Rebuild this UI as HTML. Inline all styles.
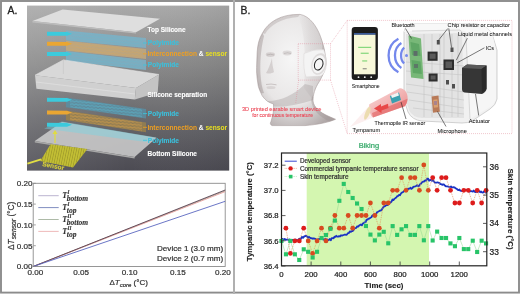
<!DOCTYPE html>
<html><head><meta charset="utf-8"><style>html,body{margin:0;padding:0;background:#fff;width:520px;height:294px;overflow:hidden}svg{display:block}</style></head>
<body>
<svg width="520" height="294" viewBox="0 0 520 294" font-family="Liberation Sans, Arial, sans-serif">
<defs>
<linearGradient id="bgA" x1="0" y1="0" x2="0" y2="1">
 <stop offset="0" stop-color="#a9a9a9"/><stop offset="0.35" stop-color="#8a8a8a"/><stop offset="0.7" stop-color="#67676b"/><stop offset="1" stop-color="#4c4b53"/>
</linearGradient>
<linearGradient id="bgAh" x1="0" y1="0" x2="1" y2="0">
 <stop offset="0" stop-color="#ffffff" stop-opacity="0.10"/><stop offset="0.5" stop-color="#ffffff" stop-opacity="0"/><stop offset="1" stop-color="#000" stop-opacity="0.05"/>
</linearGradient>
<linearGradient id="plate" x1="0" y1="0" x2="1" y2="1">
 <stop offset="0" stop-color="#e6e6e6"/><stop offset="1" stop-color="#d2d2d2"/>
</linearGradient>
<linearGradient id="cyanfade" x1="0" y1="0" x2="1" y2="0">
 <stop offset="0" stop-color="#3cc8dc"/><stop offset="0.25" stop-color="#3cc8dc"/><stop offset="0.45" stop-color="#6eb0c0" stop-opacity="0.8"/><stop offset="1" stop-color="#6eaabb" stop-opacity="0.75"/>
</linearGradient>
<linearGradient id="orfade" x1="0" y1="0" x2="1" y2="0">
 <stop offset="0" stop-color="#e8a830"/><stop offset="0.25" stop-color="#e8a030"/><stop offset="0.45" stop-color="#b89860" stop-opacity="0.8"/><stop offset="1" stop-color="#b8a070" stop-opacity="0.75"/>
</linearGradient>
<radialGradient id="headg" cx="0.45" cy="0.4" r="0.7">
 <stop offset="0" stop-color="#f6f6f6"/><stop offset="0.6" stop-color="#e8e6e6"/><stop offset="1" stop-color="#b0a8a8"/>
</radialGradient>
<linearGradient id="coneg" x1="0" y1="0" x2="1" y2="1">
 <stop offset="0" stop-color="#fadcdc"/><stop offset="0.5" stop-color="#f2b4b4"/><stop offset="1" stop-color="#e88484"/>
</linearGradient>
<pattern id="meshC" width="4" height="3" patternUnits="userSpaceOnUse" patternTransform="rotate(5)">
 <path d="M0,1.5 Q1,0 2,1.5 T4,1.5" fill="none" stroke="#5ac0d8" stroke-width="0.9"/>
</pattern>
<pattern id="meshO" width="4" height="3" patternUnits="userSpaceOnUse" patternTransform="rotate(5)">
 <path d="M0,1.5 Q1,0 2,1.5 T4,1.5" fill="none" stroke="#e8a848" stroke-width="0.9"/>
</pattern>
<pattern id="grid" width="2.4" height="2.4" patternUnits="userSpaceOnUse" patternTransform="rotate(12)">
 <rect x="0" y="0" width="0.7" height="2.4" fill="#7a7620"/>
</pattern>
<linearGradient id="sideg" x1="0" y1="0" x2="1" y2="0">
 <stop offset="0" stop-color="#b0a8a8" stop-opacity="0"/><stop offset="0.4" stop-color="#b0a8a8" stop-opacity="0.25"/><stop offset="1" stop-color="#a09898" stop-opacity="0.4"/>
</linearGradient>
</defs>
<rect width="520" height="294" fill="#fff"/>
<rect x="27" y="5.6" width="202.2" height="165" fill="url(#bgA)"/>
<rect x="27" y="5.6" width="202.2" height="165" fill="url(#bgAh)"/>
<polygon points="32.5,21 62.6,9.4 160,18.8 136,32.2" fill="#dedede"/>
<polygon points="32.5,21 136,32.2 136,33.6 32.5,22.4" fill="#bdbdbd"/>
<polygon points="66,30.6 146,38.1 146,48.1 66,40.6" fill="#7cb0c6" opacity="0.85"/>
<polygon points="70,31.5 142,38.2 142,47.2 70,40.5" fill="url(#meshC)" opacity="0.45"/>
<polygon points="47,31.799999999999997 67,31.999999999999996 72,33.8 67,35.8 47,35.8" fill="#3ccadc"/>
<polygon points="66,40.7 146,48.9 146,58.9 66,50.7" fill="#c2a87c" opacity="0.85"/>
<polygon points="70,41.6 142,49.0 142,58.0 70,50.6" fill="url(#meshO)" opacity="0.45"/>
<polygon points="47,41.7 67,41.900000000000006 72,43.7 67,45.7 47,45.7" fill="#eaa632"/>
<polygon points="66,51.1 146,60.1 146,70.1 66,61.1" fill="#7cb0c6" opacity="0.85"/>
<polygon points="70,52.0 142,60.2 142,69.2 70,61.0" fill="url(#meshC)" opacity="0.45"/>
<polygon points="47,51.9 67,52.1 72,53.9 67,55.9 47,55.9" fill="#3ccadc"/>
<polygon points="35,75.2 63.4,59.9 159,74.5 136,88" fill="#d8d8d8"/>
<polygon points="35,75.2 136,88 134.8,99.5 36.4,88.7" fill="#d0d0d0"/>
<polygon points="136,88 159,74.5 157.7,92.4 134.8,99.5" fill="#c4c4c4"/>
<polyline points="35,75.2 63.4,59.9 159,74.5" fill="none" stroke="#e8e8e8" stroke-width="0.6"/>
<line x1="63.4" y1="59.9" x2="63.4" y2="74" stroke="#c4c4c4" stroke-width="0.6"/>
<line x1="36" y1="82" x2="135" y2="94" stroke="#dcdcdc" stroke-width="1.2"/>
<polygon points="66,97.6 146,108.9 146,118.5 66,107.2" fill="#5a8ea2" opacity="0.85"/>
<polygon points="70,98.7 142,108.9 142,117.5 70,107.3" fill="url(#meshC)" opacity="0.8"/>
<polygon points="47,97.7 67,97.9 72,99.7 67,101.7 47,101.7" fill="#3ccadc"/>
<polygon points="66,110.6 146,122.6 146,132.2 66,120.2" fill="#98804e" opacity="0.85"/>
<polygon points="70,111.7 142,122.5 142,131.2 70,120.3" fill="url(#meshO)" opacity="0.8"/>
<polygon points="47,110.6 67,110.8 72,112.6 67,114.6 47,114.6" fill="#eaa632"/>
<polygon points="34.8,141 62,122 156.5,137.7 134.6,157" fill="#cfcfcf" opacity="0.85"/>
<polygon points="44,128.5 62,121.5 156.5,137.5 146,142" fill="#78d4e4" opacity="0.45"/>
<polygon points="34.8,141 134.6,157 134.6,158.4 34.8,142.4" fill="#a8a8a8"/>
<polygon points="47,122.8 67,123 72,124.8 67,126.8 47,126.8" fill="#3ccadc"/>
<polygon points="40.2,161 50.6,144.2 87.4,149 73,167.6" fill="#c2be34"/>
<polygon points="40.2,161 50.6,144.2 87.4,149 73,167.6" fill="url(#grid)" opacity="0.5"/>
<line x1="27.4" y1="163.6" x2="41" y2="159.4" stroke="#e2de44" stroke-width="1.8"/>
<line x1="55" y1="143" x2="55" y2="133" stroke="#e0dc40" stroke-width="1.2"/>
<polygon points="52.5,134 57.5,134 55,130" fill="#e0dc40"/>
<text x="42" y="166" font-size="6.5" font-weight="bold" fill="#d8d23a" transform="rotate(11 42 166)" stroke="#d8d23a" stroke-width="0.12">Sensor</text>
<text x="147.5" y="31.7" font-size="6.5" font-weight="bold" fill="#ffffff" stroke="#ffffff" stroke-width="0.12">Top Silicone</text>
<text x="147.8" y="45.3" font-size="6.6" font-weight="bold" fill="#3cc0dc" stroke="#3cc0dc" stroke-width="0.12">Polyimide</text>
<line x1="143" y1="43" x2="147" y2="43" stroke="#38c8e0" stroke-width="0.8"/>
<text x="147.5" y="56.0" font-size="6.6" font-weight="bold"><tspan fill="#f0a020">Interconnection</tspan><tspan fill="#ffffff"> &amp; </tspan><tspan fill="#e8e020">sensor</tspan></text>
<line x1="143" y1="53.8" x2="147" y2="53.8" stroke="#f0a020" stroke-width="0.8"/>
<text x="147.8" y="67.3" font-size="6.6" font-weight="bold" fill="#3cc0dc" stroke="#3cc0dc" stroke-width="0.12">Polyimide</text>
<line x1="143" y1="65" x2="147" y2="65" stroke="#38c8e0" stroke-width="0.8"/>
<text x="147.5" y="97.4" font-size="6.5" font-weight="bold" fill="#ffffff" stroke="#ffffff" stroke-width="0.12">Silicone separation</text>
<text x="147.8" y="115.89999999999999" font-size="6.6" font-weight="bold" fill="#3cc0dc" stroke="#3cc0dc" stroke-width="0.12">Polyimide</text>
<line x1="143" y1="113.6" x2="147" y2="113.6" stroke="#38c8e0" stroke-width="0.8"/>
<text x="147.5" y="129.5" font-size="6.6" font-weight="bold"><tspan fill="#f0a020">Interconnection</tspan><tspan fill="#ffffff"> &amp; </tspan><tspan fill="#e8e020">sensor</tspan></text>
<line x1="143" y1="127.3" x2="147" y2="127.3" stroke="#f0a020" stroke-width="0.8"/>
<text x="147.8" y="142.60000000000002" font-size="6.6" font-weight="bold" fill="#3cc0dc" stroke="#3cc0dc" stroke-width="0.12">Polyimide</text>
<line x1="143" y1="140.3" x2="147" y2="140.3" stroke="#38c8e0" stroke-width="0.8"/>
<text x="147.5" y="156.39999999999998" font-size="6.5" font-weight="bold" fill="#ffffff" stroke="#ffffff" stroke-width="0.12">Bottom Silicone</text>
<text x="7.6" y="13.9" font-size="10.4" fill="#222" stroke="#222" stroke-width="0.3">A.</text>
<rect x="33.2" y="183.3" width="192" height="83.2" fill="none" stroke="#8c8c8c" stroke-width="0.9"/>
<line x1="33.2" y1="266.5" x2="225.2" y2="190.79" stroke="#98a890" stroke-width="0.9"/>
<line x1="33.2" y1="266.5" x2="225.2" y2="191.62" stroke="#e8a0a0" stroke-width="0.9"/>
<line x1="33.2" y1="266.5" x2="225.2" y2="190.00" stroke="#5a4050" stroke-width="0.9"/>
<line x1="33.2" y1="266.5" x2="225.2" y2="201.31" stroke="#5a66c0" stroke-width="0.9"/>
<line x1="38.3" y1="195.7" x2="58.7" y2="195.7" stroke="#aaa0c4" stroke-width="0.8"/>
<text x="62.2" y="198.39999999999998" font-family="Liberation Serif, serif" font-style="italic" font-weight="bold" font-size="8" fill="#333" stroke="#333" stroke-width="0.12">T</text>
<text x="67.4" y="193.89999999999998" font-family="Liberation Serif, serif" font-style="italic" font-weight="bold" font-size="5.2" fill="#333" stroke="#333" stroke-width="0.12">I</text>
<text x="66.8" y="201.1" font-family="Liberation Serif, serif" font-style="italic" font-weight="bold" font-size="7.5" fill="#333" stroke="#333" stroke-width="0.12">bottom</text>
<line x1="38.3" y1="207.6" x2="58.7" y2="207.6" stroke="#6070b0" stroke-width="0.8"/>
<text x="62.2" y="210.29999999999998" font-family="Liberation Serif, serif" font-style="italic" font-weight="bold" font-size="8" fill="#333" stroke="#333" stroke-width="0.12">T</text>
<text x="67.4" y="205.79999999999998" font-family="Liberation Serif, serif" font-style="italic" font-weight="bold" font-size="5.2" fill="#333" stroke="#333" stroke-width="0.12">I</text>
<text x="66.8" y="213.0" font-family="Liberation Serif, serif" font-style="italic" font-weight="bold" font-size="7.5" fill="#333" stroke="#333" stroke-width="0.12">top</text>
<line x1="38.3" y1="219.5" x2="58.7" y2="219.5" stroke="#98a890" stroke-width="0.8"/>
<text x="62.2" y="222.2" font-family="Liberation Serif, serif" font-style="italic" font-weight="bold" font-size="8" fill="#333" stroke="#333" stroke-width="0.12">T</text>
<text x="67.4" y="217.7" font-family="Liberation Serif, serif" font-style="italic" font-weight="bold" font-size="5.2" fill="#333" stroke="#333" stroke-width="0.12">II</text>
<text x="66.8" y="224.9" font-family="Liberation Serif, serif" font-style="italic" font-weight="bold" font-size="7.5" fill="#333" stroke="#333" stroke-width="0.12">bottom</text>
<line x1="38.3" y1="231.4" x2="58.7" y2="231.4" stroke="#eaa8a8" stroke-width="0.8"/>
<text x="62.2" y="234.1" font-family="Liberation Serif, serif" font-style="italic" font-weight="bold" font-size="8" fill="#333" stroke="#333" stroke-width="0.12">T</text>
<text x="67.4" y="229.6" font-family="Liberation Serif, serif" font-style="italic" font-weight="bold" font-size="5.2" fill="#333" stroke="#333" stroke-width="0.12">II</text>
<text x="66.8" y="236.8" font-family="Liberation Serif, serif" font-style="italic" font-weight="bold" font-size="7.5" fill="#333" stroke="#333" stroke-width="0.12">top</text>
<text x="32.6" y="269.4" font-size="8.1" text-anchor="end" fill="#333" stroke="#333" stroke-width="0.22">0.00</text>
<line x1="33.3" y1="266.5" x2="35.8" y2="266.5" stroke="#8c8c8c" stroke-width="0.8"/>
<text x="35.3" y="274.8" font-size="8.1" text-anchor="middle" fill="#333" stroke="#333" stroke-width="0.22">0.00</text>
<text x="32.6" y="248.6" font-size="8.1" text-anchor="end" fill="#333" stroke="#333" stroke-width="0.22">0.05</text>
<line x1="33.3" y1="245.7" x2="35.8" y2="245.7" stroke="#8c8c8c" stroke-width="0.8"/>
<text x="81.1" y="274.8" font-size="8.1" text-anchor="middle" fill="#333" stroke="#333" stroke-width="0.22">0.05</text>
<text x="32.6" y="227.8" font-size="8.1" text-anchor="end" fill="#333" stroke="#333" stroke-width="0.22">0.10</text>
<line x1="33.3" y1="224.9" x2="35.8" y2="224.9" stroke="#8c8c8c" stroke-width="0.8"/>
<text x="129.6" y="274.8" font-size="8.1" text-anchor="middle" fill="#333" stroke="#333" stroke-width="0.22">0.10</text>
<text x="32.6" y="207.0" font-size="8.1" text-anchor="end" fill="#333" stroke="#333" stroke-width="0.22">0.15</text>
<line x1="33.3" y1="204.1" x2="35.8" y2="204.1" stroke="#8c8c8c" stroke-width="0.8"/>
<text x="177.9" y="274.8" font-size="8.1" text-anchor="middle" fill="#333" stroke="#333" stroke-width="0.22">0.15</text>
<text x="32.6" y="186.2" font-size="8.1" text-anchor="end" fill="#333" stroke="#333" stroke-width="0.22">0.20</text>
<line x1="33.3" y1="183.3" x2="35.8" y2="183.3" stroke="#8c8c8c" stroke-width="0.8"/>
<text x="223.0" y="274.8" font-size="8.1" text-anchor="middle" fill="#333" stroke="#333" stroke-width="0.22">0.20</text>
<text x="157" y="251.2" font-size="8.1" fill="#333" stroke="#333" stroke-width="0.22">Device 1 (3.0 mm)</text>
<text x="157" y="261" font-size="8.1" fill="#333" stroke="#333" stroke-width="0.22">Device 2 (0.7 mm)</text>
<text transform="translate(14.2,225.8) rotate(-90)" text-anchor="middle" font-size="8.4" fill="#333" stroke="#333" stroke-width="0.22">&#916;<tspan font-style="italic">T</tspan><tspan font-style="italic" font-size="6.8" dy="1.7">sensor</tspan><tspan dy="-1.7"> (°C)</tspan></text>
<text x="128.7" y="285" text-anchor="middle" font-size="8" fill="#333" stroke="#333" stroke-width="0.22">&#916;<tspan font-style="italic">T</tspan><tspan font-style="italic" font-size="6" dy="1.6">core</tspan><tspan dy="-1.6"> (°C)</tspan></text>
<text x="240.6" y="13.9" font-size="10.4" fill="#222" stroke="#222" stroke-width="0.3">B.</text>
<path d="M300,14.4 C310,16 317,27 320.5,36.5 C323.5,45 326,54 326,64 C325,71 322.5,76 319,82 C315,88 312.8,95 313,101 C313.5,107 320,112.5 328,116 L335.5,119.3 C328,122.5 318,124.5 305,125.6 L272,125.6 C270,124.5 270,123 271,121.5 C273,115 274.2,110 273.5,104 C271,103 269,102.5 267.3,101.2 C264,98.5 262,96 261.2,93.6 C259.5,90 258.3,87 258,84.4 C257.3,80 256.8,76 256.6,72 C256.5,66 257,58 257.2,52 C257.6,45 259,38.5 262.5,33 C268,22 281,14 300,14.4 Z" fill="url(#headg)" stroke="#a89c9c" stroke-width="0.6"/>
<clipPath id="hc"><path d="M300,14.4 C310,16 317,27 320.5,36.5 C323.5,45 326,54 326,64 C325,71 322.5,76 319,82 C315,88 312.8,95 313,101 C313.5,107 320,112.5 328,116 L335.5,119.3 C328,122.5 318,124.5 305,125.6 L272,125.6 C270,124.5 270,123 271,121.5 C273,115 274.2,110 273.5,104 C271,103 269,102.5 267.3,101.2 C264,98.5 262,96 261.2,93.6 C259.5,90 258.3,87 258,84.4 C257.3,80 256.8,76 256.6,72 C256.5,66 257,58 257.2,52 C257.6,45 259,38.5 262.5,33 C268,22 281,14 300,14.4 Z"/></clipPath>
<g clip-path="url(#hc)">
<path d="M262.5,33 C259,38.5 257.6,45 257.2,52 C257,58 256.5,66 256.6,72 C256.8,76 257.3,80 258,84.4 C258.3,87 259.5,90 261.2,93.6 L264,93 C262,88 261,82 260.5,74 C260,64 260.5,50 264,36 Z" fill="#8a7c7c" opacity="0.35"/>
<path d="M262.5,33 C268,22 281,14 300,14.4 L298,17 C282,18 270,25 265,34 Z" fill="#8a7c7c" opacity="0.25"/>
<path d="M298,16 C305,30 306,60 304,88 L313,100 L330,80 L330,14 Z" fill="url(#sideg)"/>
<ellipse cx="334" cy="52" rx="12" ry="34" fill="#a89e9e" opacity="0.35"/>
<ellipse cx="270.4" cy="54.6" rx="4.6" ry="2.4" fill="#a89e9e" opacity="0.35"/>
<ellipse cx="287.2" cy="53" rx="4.6" ry="2.4" fill="#a89e9e" opacity="0.3"/>
<path d="M267,55 Q270.5,53.5 274,55" fill="none" stroke="#8a8080" stroke-width="0.5" opacity="0.6"/>
<path d="M284,53.5 Q287.5,52 291,53.5" fill="none" stroke="#8a8080" stroke-width="0.5" opacity="0.6"/>
<path d="M272,58 C272,63 273,68 274,72 C272,73.5 269,74 266,73 C268,70 270,65 272,58 Z" fill="#a89e9e" opacity="0.35"/>
<path d="M266,84.5 Q271,83.5 276.5,84.8" fill="none" stroke="#9a8e8e" stroke-width="0.7" opacity="0.6"/>
<ellipse cx="271" cy="87.5" rx="4.5" ry="1.5" fill="#b0a6a6" opacity="0.3"/>
<path d="M267,101 C280,101.5 294,95 305,84 L313,86 L313,100 C300,104 285,108 272,106 Z" fill="#a8a0a0" opacity="0.4"/>
<path d="M313,95 C313,105 318,112 330,117 L336,120 L330,122 C320,117 312,110 311,100 Z" fill="#9a9090" opacity="0.35"/>
</g>
<path d="M304,53.5 Q313,49 323.8,49.7 Q327,58 326,68 Q325,73 321,76 L306,77 Q303,70 304,53.5 Z" fill="#f4f4f4" stroke="#d8d4d4" stroke-width="0.5"/>
<ellipse cx="319" cy="64" rx="7.5" ry="11" fill="#d4d0d0" opacity="0.7" transform="rotate(15 319 64)"/>
<ellipse cx="318.8" cy="64.2" rx="6.2" ry="9.2" fill="#f6f6f6" transform="rotate(15 318.8 64.2)"/>
<ellipse cx="318.7" cy="64.4" rx="4.1" ry="5.8" fill="none" stroke="#2a2a2a" stroke-width="1.0" transform="rotate(20 318.7 64.4)"/>
<rect x="298.2" y="43.7" width="32.3" height="36.4" fill="none" stroke="#e08898" stroke-width="0.7" stroke-dasharray="0.9,1.1" opacity="0.75"/>
<line x1="330.5" y1="43.7" x2="347.2" y2="20.4" stroke="#e08898" stroke-width="0.7" stroke-dasharray="0.9,1.1" opacity="0.75"/>
<line x1="330.5" y1="80.1" x2="347.2" y2="133.6" stroke="#e08898" stroke-width="0.7" stroke-dasharray="0.9,1.1" opacity="0.75"/>
<rect x="347.2" y="20.4" width="164.8" height="113.2" fill="none" stroke="#e08898" stroke-width="0.7" stroke-dasharray="0.9,1.1" opacity="0.75"/>
<line x1="298.6" y1="80.1" x2="295.6" y2="104" stroke="#e08898" stroke-width="0.7" stroke-dasharray="0.9,1.1" opacity="0.75"/>
<text x="242" y="110.6" font-size="5.6" fill="#ec4454" stroke="#ec4454" stroke-width="0.08">3D printed earable smart device</text>
<text x="252.2" y="117.1" font-size="5.1" fill="#ec4454" stroke="#ec4454" stroke-width="0.08">for continuous temperature</text>
<rect x="351.7" y="27.1" width="26.2" height="53" rx="3" fill="#1c1c1c"/>
<rect x="354" y="33" width="21.5" height="1.8" fill="#3a5a9a"/>
<rect x="354" y="34.8" width="21.5" height="39.5" fill="#f8f8da"/>
<rect x="358.2" y="46.8" width="13" height="1.1" fill="#50c850" opacity="0.75"/>
<rect x="360.7" y="52.699999999999996" width="8" height="1.1" fill="#50c850" opacity="0.75"/>
<rect x="362.2" y="60.4" width="5" height="1.1" fill="#50c850" opacity="0.75"/>
<rect x="362.7" y="68.2" width="4" height="1.1" fill="#666" opacity="0.75"/>
<circle cx="358.5" cy="77.2" r="0.9" fill="#eee"/>
<circle cx="364.8" cy="77.2" r="0.9" fill="#eee"/>
<circle cx="371.2" cy="77.2" r="0.9" fill="#eee"/>
<text x="351.8" y="87.5" font-size="5.1" fill="#1e1e1e" stroke="#1e1e1e" stroke-width="0.06">Smartphone</text>
<path d="M404,32 Q405,25 413,24 L476,24 Q489,25 493,37 L497,50 L497,99 Q496,105 490,109 L472,121 Q468,123 462,123 L422,121 Q412,120 408,112 L404,100 Z" fill="#f1f1f1" stroke="#c6c6c6" stroke-width="0.8"/>
<path d="M404,32 Q405,25 413,24 L476,24 Q489,25 493,37 L470,36 Q466,30 460,30 L412,31 Z" fill="#f8f8f8"/>
<path d="M406,34 L462,33 L464,118 L422,118 Q412,117 409,110 L406,100 Z" fill="#dedede" opacity="0.75"/>
<path d="M466,37 L493,37 L496,50 L496,99 Q495,104 490,107 L470,119 Z" fill="#f6f6f6"/>
<line x1="412" y1="31" x2="460" y2="30" stroke="#c4c4c4" stroke-width="0.6"/>
<line x1="460" y1="30" x2="466" y2="37" stroke="#c4c4c4" stroke-width="0.6"/>
<line x1="466" y1="37" x2="470" y2="119" stroke="#c4c4c4" stroke-width="0.6"/>
<line x1="406" y1="84" x2="464" y2="92" stroke="#c4c4c4" stroke-width="0.6"/>
<line x1="407" y1="92" x2="464" y2="100" stroke="#c4c4c4" stroke-width="0.6"/>
<line x1="409" y1="100" x2="464" y2="108" stroke="#c4c4c4" stroke-width="0.6"/>
<line x1="413" y1="108" x2="464" y2="114" stroke="#c4c4c4" stroke-width="0.6"/>
<line x1="424" y1="34" x2="424" y2="117" stroke="#c4c4c4" stroke-width="0.6"/>
<line x1="440" y1="34" x2="440" y2="117" stroke="#c4c4c4" stroke-width="0.6"/>
<line x1="452" y1="34" x2="452" y2="117" stroke="#c4c4c4" stroke-width="0.6"/>
<line x1="432" y1="34" x2="432" y2="117" stroke="#c4c4c4" stroke-width="0.6"/>
<line x1="406" y1="62" x2="464" y2="66" stroke="#c4c4c4" stroke-width="0.6"/>
<line x1="406" y1="71" x2="464" y2="75" stroke="#c4c4c4" stroke-width="0.6"/>
<line x1="444" y1="34" x2="444" y2="117" stroke="#c4c4c4" stroke-width="0.6"/>
<line x1="458" y1="34" x2="458" y2="117" stroke="#c4c4c4" stroke-width="0.6"/>
<polygon points="408.5,35.5 421,38.5 423.5,79 411,77.5" fill="#78b878"/>
<polygon points="410.5,42 419,44 420.5,56 412,55" fill="#4e9a58" opacity="0.6"/>
<polygon points="411.5,60 420.5,61.5 421.8,74 413,73" fill="#4e9a58" opacity="0.6"/>
<rect x="413.5" y="51" width="4" height="5" fill="#5a4a6a" opacity="0.6"/>
<rect x="414" y="64" width="4" height="4" fill="#5a4a6a" opacity="0.5"/>
<path d="M404.2,47.6 A6,9 0 0 0 404.2,63.4" fill="none" stroke="#7488ec" stroke-width="2.3"/>
<path d="M401.4,43.1 A12,14 0 0 0 401.4,67.9" fill="none" stroke="#7488ec" stroke-width="2.3"/>
<path d="M398.4,38.7 A18.4,19 0 0 0 398.4,72.3" fill="none" stroke="#7488ec" stroke-width="2.3"/>
<circle cx="406.5" cy="55.5" r="1.5" fill="#7488ec"/>
<rect x="427.6" y="51.6" width="10" height="9.2" fill="#2e2e2e"/>
<rect x="429.6" y="53.6" width="6" height="5.199999999999999" fill="#5a5a5a"/>
<rect x="443.5" y="59.5" width="10.5" height="10.5" fill="#2e2e2e"/>
<rect x="445.5" y="61.5" width="6.5" height="6.5" fill="#5a5a5a"/>
<rect x="428.6" y="73.5" width="9" height="8" fill="#2e2e2e"/>
<rect x="430.6" y="75.5" width="5" height="4" fill="#5a5a5a"/>
<rect x="436.8" y="40" width="3" height="4.5" fill="#505050"/>
<rect x="450.5" y="47.5" width="3" height="4.5" fill="#505050"/>
<rect x="446" y="80" width="3" height="4.5" fill="#505050"/>
<rect x="452" y="84" width="3" height="4.5" fill="#505050"/>
<path d="M462,68 L467,64.4 L486.5,65.5 L486.5,89 Q486,92 482,94 L464.5,92.5 Q462,92 462,89 Z" fill="#363636"/>
<polygon points="462,68 467,64.4 486.5,65.5 481.5,69" fill="#5a5a5a"/>
<polygon points="481.5,69 486.5,65.5 486.5,89 482,93" fill="#2a2a2a"/>
<polygon points="431.6,96.5 438.5,95.4 439.8,111.8 433,112.8" fill="#b87a58"/>
<rect x="433.5" y="99.5" width="4.3" height="8" fill="#d8a070" transform="rotate(-5 435.6 103.5)"/>
<rect x="434" y="101" width="3" height="4" fill="#8a70a0" opacity="0.6"/>
<path d="M350,127 L369,106 L373,117.5 Z" fill="#fae4e4" opacity="0.6"/>
<path d="M369.3,104.3 L399.2,88.4 C404,87.5 408,93 407.6,98.7 C407.3,102.5 406,105 404.8,106.2 L373,117.4 C370,116 368.5,108 369.3,104.3 Z" fill="url(#coneg)"/>
<path d="M373,117.4 L404.8,106.2 C406,105 407.3,102.5 407.6,98.7 L402,101 L372,113 Z" fill="#e05858" opacity="0.55"/>
<polygon points="374,108.5 381,104 381,106.5 388,103.8 388.5,108 381.5,110.5 381.5,113" fill="#e84848"/>
<polygon points="389.9,96 399,92.5 401,100 392,103.6" fill="#3aa0b0"/>
<polygon points="391,95.2 398,92.6 399,95.5 392,98" fill="#f0f4f4"/>
<ellipse cx="367.4" cy="113.2" rx="2.2" ry="7" fill="#ecdcb0" transform="rotate(22 367.4 113.2)"/>
<line x1="401" y1="102" x2="406" y2="119" stroke="#222" stroke-width="0.6"/>
<line x1="437.5" y1="111.5" x2="446" y2="126.5" stroke="#222" stroke-width="0.6"/>
<line x1="475.5" y1="94" x2="478.7" y2="115.5" stroke="#222" stroke-width="0.6"/>
<line x1="405.5" y1="28.5" x2="411.5" y2="38.5" stroke="#222" stroke-width="0.6"/>
<line x1="447.8" y1="28.5" x2="438.3" y2="40.5" stroke="#222" stroke-width="0.6"/>
<line x1="448.8" y1="28.5" x2="451.5" y2="47.5" stroke="#222" stroke-width="0.6"/>
<line x1="467.4" y1="38.2" x2="456.3" y2="60.2" stroke="#222" stroke-width="0.6"/>
<line x1="484.4" y1="47.8" x2="457.2" y2="62.8" stroke="#222" stroke-width="0.6"/>
<text x="374.6" y="124.5" font-size="5.3" fill="#1e1e1e" stroke="#1e1e1e" stroke-width="0.06">Thermopile IR sensor</text>
<text x="352.4" y="132.4" font-size="5.6" fill="#1e1e1e" stroke="#1e1e1e" stroke-width="0.06">Tympanum</text>
<text x="391.4" y="27.4" font-size="5.5" fill="#1e1e1e" stroke="#1e1e1e" stroke-width="0.06">Bluetooth</text>
<text x="447.6" y="27.4" font-size="5.6" fill="#1e1e1e" stroke="#1e1e1e" stroke-width="0.06">Chip resistor or capacitor</text>
<text x="457.9" y="36.4" font-size="5.6" fill="#1e1e1e" stroke="#1e1e1e" stroke-width="0.06">Liquid metal channels</text>
<text x="485.7" y="49.5" font-size="5.6" fill="#1e1e1e" stroke="#1e1e1e" stroke-width="0.06">ICs</text>
<text x="468.8" y="122.6" font-size="5.7" fill="#1e1e1e" stroke="#1e1e1e" stroke-width="0.06">Actuator</text>
<text x="437.6" y="132.7" font-size="5.6" fill="#1e1e1e" stroke="#1e1e1e" stroke-width="0.06">Microphone</text>
<rect x="306.7" y="153" width="122.3" height="112.5" fill="#d4f6b0"/>
<text x="368.9" y="147.8" font-size="7.5" text-anchor="middle" fill="#34a868" stroke="#34a868" stroke-width="0.22">Biking</text>
<polyline points="281.5,239.1 282.6,238.9 283.6,239.9 284.7,238.9 285.8,239.9 286.8,239.7 287.7,239.3 288.6,240.2 289.6,239.5 290.6,240.3 291.5,239.8 292.4,239.8 293.3,240.3 294.2,240.9 295.1,239.6 296.0,239.7 296.9,240.1 297.8,240.3 298.7,239.3 299.6,238.6 300.7,239.1 301.9,236.9 303.0,237.8 304.0,236.6 305.0,236.1 306.0,235.8 307.0,236.5 308.0,237.7 309.0,236.8 310.0,237.8 310.9,238.3 311.8,238.2 312.8,238.8 313.7,238.3 314.6,238.6 315.8,239.1 317.0,240.1 318.1,239.3 319.3,238.8 320.4,239.0 321.4,238.8 322.3,238.6 323.3,239.6 324.3,239.6 325.2,238.8 326.2,239.5 327.1,239.4 328.0,240.1 329.0,239.8 329.9,239.0 330.8,240.3 331.7,238.2 332.6,238.2 333.6,238.3 334.5,236.7 335.4,236.8 336.3,235.8 337.2,236.7 338.2,236.7 339.1,236.1 340.0,236.5 341.0,235.2 342.0,235.7 343.0,235.2 344.0,234.9 345.0,234.5 346.0,234.9 346.9,234.6 347.9,233.2 348.9,233.0 349.8,231.4 350.7,231.9 351.7,231.2 352.6,231.1 353.5,230.2 354.4,228.5 355.4,228.1 356.3,227.9 357.2,226.3 358.2,226.6 359.1,225.6 360.0,225.0 360.9,224.4 361.9,225.3 362.8,223.6 363.8,222.9 364.7,222.2 365.6,222.1 366.6,219.7 367.6,219.5 368.5,218.7 369.4,218.6 370.4,217.8 371.4,217.3 372.3,215.5 373.2,215.1 374.2,214.3 375.1,214.7 376.1,214.3 377.0,212.2 378.0,211.7 378.9,211.2 379.9,210.6 380.8,210.5 381.8,209.6 382.8,208.0 383.8,206.5 384.8,206.3 385.8,205.5 386.7,205.2 387.6,205.2 388.6,204.0 389.6,203.0 390.5,202.5 391.5,201.6 392.5,199.5 393.4,200.1 394.4,198.9 395.4,198.1 396.3,197.5 397.2,196.2 398.2,195.8 399.1,194.8 400.0,195.2 401.0,193.4 402.1,192.5 403.1,192.0 404.2,191.0 405.2,190.5 406.1,189.6 407.0,189.2 407.9,189.1 408.8,188.6 409.7,188.7 410.6,187.7 411.5,188.9 412.4,188.1 413.3,186.9 414.2,186.6 415.2,186.4 416.1,186.0 417.1,185.2 418.1,186.0 419.0,185.9 420.0,184.3 421.0,183.7 422.0,182.3 423.0,181.7 424.0,181.5 425.1,180.5 426.1,180.7 427.2,178.7 428.2,178.7 429.1,180.7 430.1,180.2 431.1,179.8 432.0,180.8 433.0,180.1 433.9,181.4 434.8,182.5 435.7,182.7 436.7,182.7 437.6,182.3 438.5,182.8 439.4,182.8 440.3,184.2 441.2,184.1 442.2,184.9 443.1,184.4 444.0,184.5 445.1,185.8 446.1,186.4 447.2,186.4 448.3,186.6 449.2,186.9 450.1,187.1 451.0,186.5 451.9,187.4 452.9,187.4 453.8,187.2 454.7,187.5 455.6,188.3 456.5,188.6 457.4,189.5 458.4,190.2 459.4,189.5 460.3,190.6 461.2,190.9 462.2,191.0 463.2,190.0 464.2,189.9 465.1,190.0 466.1,190.0 467.1,190.1 468.1,191.0 469.0,191.5 470.0,191.5 471.0,191.0 471.9,191.3 472.8,191.7 473.7,190.5 474.6,191.6 475.5,192.1 476.5,191.9 477.4,192.0 478.3,191.5 479.2,191.1 480.1,192.2 481.0,191.5 481.9,192.3 482.9,192.6 483.8,191.6 484.7,191.6 485.7,192.6 486.6,191.8" fill="none" stroke="#1a32c4" stroke-width="1.8" stroke-linejoin="round"/>
<polyline points="281.5,241 285.9,254.3 290.4,240.9 294.8,254.3 299.3,260 303.7,249.3 308.2,251.8 312.6,257.5 317.1,251.8 321.5,238 326.0,235 330.4,228.8 334.9,220.6 339.3,200.8 343.8,183.9 348.2,192 352.7,198 357.1,203.5 361.5,209 366.0,226 370.4,234.6 374.9,240.4 379.3,234.6 383.8,231.8 388.2,243.3 392.7,226.1 397.1,234.9 401.6,229.3 406.0,226.1 410.5,234.9 414.9,234.9 419.4,226.1 423.8,240.3 428.3,226.1 432.7,240.5 437.1,231.6 441.6,238 446.0,238 450.5,243.4 454.9,246.2 459.4,238 463.8,249.1 468.3,249.1 472.7,240.7 477.2,252 481.6,240.7 486.1,243.4" fill="none" stroke="#90d890" stroke-width="0.5"/>
<polyline points="285.9,228.2 290.4,253.4 294.8,240.9 299.3,240.9 303.7,228.2 308.2,240.9 312.6,253.4 317.1,240.9 321.5,228.2 326.0,240.9 330.4,228.2 334.9,215.5 339.3,228.2 343.8,228.2 348.2,215.5 352.7,228.2 357.1,215.5 361.5,215.5 366.0,215.5 370.4,203 374.9,215.5 379.3,228.2 383.8,203 388.2,203 392.7,190.3 397.1,190.3 401.6,177.7 406.0,190.3 410.5,177.7 414.9,177.7 419.4,190.3 423.8,165 428.3,190.3 432.7,177.7 437.1,190.3 441.6,177.7 446.0,177.7 450.5,190.3 454.9,203 459.4,203 463.8,190.3 468.3,190.3 472.7,203 477.2,190.3 481.6,203 486.1,190.3" fill="none" stroke="#e08850" stroke-width="0.7" stroke-dasharray="0.9,0.9"/>
<circle cx="285.9" cy="228.2" r="2.4" fill="#dd1c1c"/>
<circle cx="290.4" cy="253.4" r="2.4" fill="#dd1c1c"/>
<circle cx="294.8" cy="240.9" r="2.4" fill="#dd1c1c"/>
<circle cx="299.3" cy="240.9" r="2.4" fill="#dd1c1c"/>
<circle cx="303.7" cy="228.2" r="2.4" fill="#dd1c1c"/>
<circle cx="308.2" cy="240.9" r="2.4" fill="#d84a20"/>
<circle cx="312.6" cy="253.4" r="2.4" fill="#d84a20"/>
<circle cx="317.1" cy="240.9" r="2.4" fill="#d84a20"/>
<circle cx="321.5" cy="228.2" r="2.4" fill="#d84a20"/>
<circle cx="326.0" cy="240.9" r="2.4" fill="#d84a20"/>
<circle cx="330.4" cy="228.2" r="2.4" fill="#d84a20"/>
<circle cx="334.9" cy="215.5" r="2.4" fill="#d84a20"/>
<circle cx="339.3" cy="228.2" r="2.4" fill="#d84a20"/>
<circle cx="343.8" cy="228.2" r="2.4" fill="#d84a20"/>
<circle cx="348.2" cy="215.5" r="2.4" fill="#d84a20"/>
<circle cx="352.7" cy="228.2" r="2.4" fill="#d84a20"/>
<circle cx="357.1" cy="215.5" r="2.4" fill="#d84a20"/>
<circle cx="361.5" cy="215.5" r="2.4" fill="#d84a20"/>
<circle cx="366.0" cy="215.5" r="2.4" fill="#d84a20"/>
<circle cx="370.4" cy="203" r="2.4" fill="#d84a20"/>
<circle cx="374.9" cy="215.5" r="2.4" fill="#d84a20"/>
<circle cx="379.3" cy="228.2" r="2.4" fill="#d84a20"/>
<circle cx="383.8" cy="203" r="2.4" fill="#d84a20"/>
<circle cx="388.2" cy="203" r="2.4" fill="#d84a20"/>
<circle cx="392.7" cy="190.3" r="2.4" fill="#d84a20"/>
<circle cx="397.1" cy="190.3" r="2.4" fill="#d84a20"/>
<circle cx="401.6" cy="177.7" r="2.4" fill="#d84a20"/>
<circle cx="406.0" cy="190.3" r="2.4" fill="#d84a20"/>
<circle cx="410.5" cy="177.7" r="2.4" fill="#d84a20"/>
<circle cx="414.9" cy="177.7" r="2.4" fill="#d84a20"/>
<circle cx="419.4" cy="190.3" r="2.4" fill="#d84a20"/>
<circle cx="423.8" cy="165" r="2.4" fill="#d84a20"/>
<circle cx="428.3" cy="190.3" r="2.4" fill="#d84a20"/>
<circle cx="432.7" cy="177.7" r="2.4" fill="#dd1c1c"/>
<circle cx="437.1" cy="190.3" r="2.4" fill="#dd1c1c"/>
<circle cx="441.6" cy="177.7" r="2.4" fill="#dd1c1c"/>
<circle cx="446.0" cy="177.7" r="2.4" fill="#dd1c1c"/>
<circle cx="450.5" cy="190.3" r="2.4" fill="#dd1c1c"/>
<circle cx="454.9" cy="203" r="2.4" fill="#dd1c1c"/>
<circle cx="459.4" cy="203" r="2.4" fill="#dd1c1c"/>
<circle cx="463.8" cy="190.3" r="2.4" fill="#dd1c1c"/>
<circle cx="468.3" cy="190.3" r="2.4" fill="#dd1c1c"/>
<circle cx="472.7" cy="203" r="2.4" fill="#dd1c1c"/>
<circle cx="477.2" cy="190.3" r="2.4" fill="#dd1c1c"/>
<circle cx="481.6" cy="203" r="2.4" fill="#dd1c1c"/>
<circle cx="486.1" cy="190.3" r="2.4" fill="#dd1c1c"/>
<rect x="279.4" y="238.95" width="4.1" height="4.1" fill="#28c468"/>
<rect x="283.9" y="252.25" width="4.1" height="4.1" fill="#28c468"/>
<rect x="288.3" y="238.85" width="4.1" height="4.1" fill="#28c468"/>
<rect x="292.8" y="252.25" width="4.1" height="4.1" fill="#28c468"/>
<rect x="297.2" y="257.95" width="4.1" height="4.1" fill="#28c468"/>
<rect x="301.7" y="247.25" width="4.1" height="4.1" fill="#28c468"/>
<rect x="306.1" y="249.75" width="4.1" height="4.1" fill="#28c468"/>
<rect x="310.6" y="255.45" width="4.1" height="4.1" fill="#28c468"/>
<rect x="315.0" y="249.75" width="4.1" height="4.1" fill="#28c468"/>
<rect x="319.5" y="235.95" width="4.1" height="4.1" fill="#28c468"/>
<rect x="323.9" y="232.95" width="4.1" height="4.1" fill="#28c468"/>
<rect x="328.4" y="226.75" width="4.1" height="4.1" fill="#28c468"/>
<rect x="332.8" y="218.55" width="4.1" height="4.1" fill="#28c468"/>
<rect x="337.3" y="198.75" width="4.1" height="4.1" fill="#28c468"/>
<rect x="341.7" y="181.85" width="4.1" height="4.1" fill="#28c468"/>
<rect x="346.2" y="189.95" width="4.1" height="4.1" fill="#28c468"/>
<rect x="350.6" y="195.95" width="4.1" height="4.1" fill="#28c468"/>
<rect x="355.0" y="201.45" width="4.1" height="4.1" fill="#28c468"/>
<rect x="359.5" y="206.95" width="4.1" height="4.1" fill="#28c468"/>
<rect x="363.9" y="223.95" width="4.1" height="4.1" fill="#28c468"/>
<rect x="368.4" y="232.55" width="4.1" height="4.1" fill="#28c468"/>
<rect x="372.8" y="238.35" width="4.1" height="4.1" fill="#28c468"/>
<rect x="377.3" y="232.55" width="4.1" height="4.1" fill="#28c468"/>
<rect x="381.7" y="229.75" width="4.1" height="4.1" fill="#28c468"/>
<rect x="386.2" y="241.25" width="4.1" height="4.1" fill="#28c468"/>
<rect x="390.6" y="224.05" width="4.1" height="4.1" fill="#28c468"/>
<rect x="395.1" y="232.85" width="4.1" height="4.1" fill="#28c468"/>
<rect x="399.5" y="227.25" width="4.1" height="4.1" fill="#28c468"/>
<rect x="404.0" y="224.05" width="4.1" height="4.1" fill="#28c468"/>
<rect x="408.4" y="232.85" width="4.1" height="4.1" fill="#28c468"/>
<rect x="412.9" y="232.85" width="4.1" height="4.1" fill="#28c468"/>
<rect x="417.3" y="224.05" width="4.1" height="4.1" fill="#28c468"/>
<rect x="421.8" y="238.25" width="4.1" height="4.1" fill="#28c468"/>
<rect x="426.2" y="224.05" width="4.1" height="4.1" fill="#28c468"/>
<rect x="430.6" y="238.45" width="4.1" height="4.1" fill="#28c468"/>
<rect x="435.1" y="229.55" width="4.1" height="4.1" fill="#28c468"/>
<rect x="439.5" y="235.95" width="4.1" height="4.1" fill="#28c468"/>
<rect x="444.0" y="235.95" width="4.1" height="4.1" fill="#28c468"/>
<rect x="448.4" y="241.35" width="4.1" height="4.1" fill="#28c468"/>
<rect x="452.9" y="244.15" width="4.1" height="4.1" fill="#28c468"/>
<rect x="457.3" y="235.95" width="4.1" height="4.1" fill="#28c468"/>
<rect x="461.8" y="247.05" width="4.1" height="4.1" fill="#28c468"/>
<rect x="466.2" y="247.05" width="4.1" height="4.1" fill="#28c468"/>
<rect x="470.7" y="238.65" width="4.1" height="4.1" fill="#28c468"/>
<rect x="475.1" y="249.95" width="4.1" height="4.1" fill="#28c468"/>
<rect x="479.6" y="238.65" width="4.1" height="4.1" fill="#28c468"/>
<rect x="484.0" y="241.35" width="4.1" height="4.1" fill="#28c468"/>
<rect x="281.5" y="153" width="205.3" height="112.8" fill="none" stroke="#222" stroke-width="1.2"/>
<text x="278.6" y="268.8" font-size="7.7" text-anchor="end" fill="#222" stroke="#222" stroke-width="0.22">36.4</text>
<line x1="281.5" y1="266.0" x2="285.5" y2="266.0" stroke="#333" stroke-width="0.8"/>
<text x="278.6" y="243.6" font-size="7.7" text-anchor="end" fill="#222" stroke="#222" stroke-width="0.22">36.6</text>
<line x1="281.5" y1="240.8" x2="285.5" y2="240.8" stroke="#333" stroke-width="0.8"/>
<text x="278.6" y="218.4" font-size="7.7" text-anchor="end" fill="#222" stroke="#222" stroke-width="0.22">36.8</text>
<line x1="281.5" y1="215.6" x2="285.5" y2="215.6" stroke="#333" stroke-width="0.8"/>
<text x="278.6" y="193.2" font-size="7.7" text-anchor="end" fill="#222" stroke="#222" stroke-width="0.22">37.0</text>
<line x1="281.5" y1="190.4" x2="285.5" y2="190.4" stroke="#333" stroke-width="0.8"/>
<text x="278.6" y="168.0" font-size="7.7" text-anchor="end" fill="#222" stroke="#222" stroke-width="0.22">37.2</text>
<line x1="281.5" y1="165.2" x2="285.5" y2="165.2" stroke="#333" stroke-width="0.8"/>
<text x="489.6" y="254.7" font-size="8.4" fill="#222" stroke="#222" stroke-width="0.22">33</text>
<line x1="483" y1="251.7" x2="487" y2="251.7" stroke="#333" stroke-width="0.8"/>
<text x="489.6" y="226.4" font-size="8.4" fill="#222" stroke="#222" stroke-width="0.22">34</text>
<line x1="483" y1="223.4" x2="487" y2="223.4" stroke="#333" stroke-width="0.8"/>
<text x="489.6" y="198.1" font-size="8.4" fill="#222" stroke="#222" stroke-width="0.22">35</text>
<line x1="483" y1="195.1" x2="487" y2="195.1" stroke="#333" stroke-width="0.8"/>
<text x="489.6" y="169.8" font-size="8.4" fill="#222" stroke="#222" stroke-width="0.22">36</text>
<line x1="483" y1="166.8" x2="487" y2="166.8" stroke="#333" stroke-width="0.8"/>
<text x="281.5" y="277" font-size="7.8" text-anchor="middle" fill="#222" stroke="#222" stroke-width="0.22">0</text>
<line x1="281.5" y1="265.5" x2="281.5" y2="261.5" stroke="#333" stroke-width="0.8"/>
<text x="311.1" y="277" font-size="7.8" text-anchor="middle" fill="#222" stroke="#222" stroke-width="0.22">200</text>
<line x1="311.1" y1="265.5" x2="311.1" y2="261.5" stroke="#333" stroke-width="0.8"/>
<text x="340.8" y="277" font-size="7.8" text-anchor="middle" fill="#222" stroke="#222" stroke-width="0.22">400</text>
<line x1="340.8" y1="265.5" x2="340.8" y2="261.5" stroke="#333" stroke-width="0.8"/>
<text x="370.4" y="277" font-size="7.8" text-anchor="middle" fill="#222" stroke="#222" stroke-width="0.22">600</text>
<line x1="370.4" y1="265.5" x2="370.4" y2="261.5" stroke="#333" stroke-width="0.8"/>
<text x="400.1" y="277" font-size="7.8" text-anchor="middle" fill="#222" stroke="#222" stroke-width="0.22">800</text>
<line x1="400.1" y1="265.5" x2="400.1" y2="261.5" stroke="#333" stroke-width="0.8"/>
<text x="429.7" y="277" font-size="7.8" text-anchor="middle" fill="#222" stroke="#222" stroke-width="0.22">1000</text>
<line x1="429.7" y1="265.5" x2="429.7" y2="261.5" stroke="#333" stroke-width="0.8"/>
<text x="459.3" y="277" font-size="7.8" text-anchor="middle" fill="#222" stroke="#222" stroke-width="0.22">1200</text>
<line x1="459.3" y1="265.5" x2="459.3" y2="261.5" stroke="#333" stroke-width="0.8"/>
<text x="384" y="287.8" font-size="7.9" font-weight="bold" text-anchor="middle" fill="#222" stroke="#222" stroke-width="0.12">Time (sec)</text>
<text transform="translate(251.9,211.7) rotate(-90)" font-size="7.8" font-weight="bold" text-anchor="middle" fill="#222" stroke="#222" stroke-width="0.12">Tympanic temperature (°C)</text>
<text transform="translate(508.3,209.1) rotate(90)" font-size="7.95" font-weight="bold" text-anchor="middle" fill="#222" stroke="#222" stroke-width="0.12">Skin temperature (°C)</text>
<line x1="284.7" y1="161.2" x2="296.8" y2="161.2" stroke="#3848d0" stroke-width="1"/>
<line x1="284.7" y1="168.4" x2="296.8" y2="168.4" stroke="#e07050" stroke-width="0.6" stroke-dasharray="0.8,0.8"/>
<circle cx="290.6" cy="168.4" r="2.2" fill="#dd1c1c"/>
<line x1="284.7" y1="176.5" x2="296.8" y2="176.5" stroke="#90d890" stroke-width="0.6" stroke-dasharray="0.8,0.8"/>
<rect x="288.9" y="174.8" width="3.6" height="3.6" fill="#28c468"/>
<text x="299.9" y="163.4" font-size="6.3" fill="#333" stroke="#333" stroke-width="0.22">Developed sensor</text>
<text x="299.9" y="170.6" font-size="6.4" fill="#333" stroke="#333" stroke-width="0.22">Commercial tympanic temperature sensor</text>
<text x="299.9" y="178.7" font-size="6.4" fill="#333" stroke="#333" stroke-width="0.22">Skin temperature</text>
<rect x="1" y="1" width="518" height="291.6" fill="none" stroke="#8c8c8c" stroke-width="1.9"/>
<line x1="234" y1="0" x2="234" y2="294" stroke="#b0b0b0" stroke-width="2"/>
</svg>
</body></html>
